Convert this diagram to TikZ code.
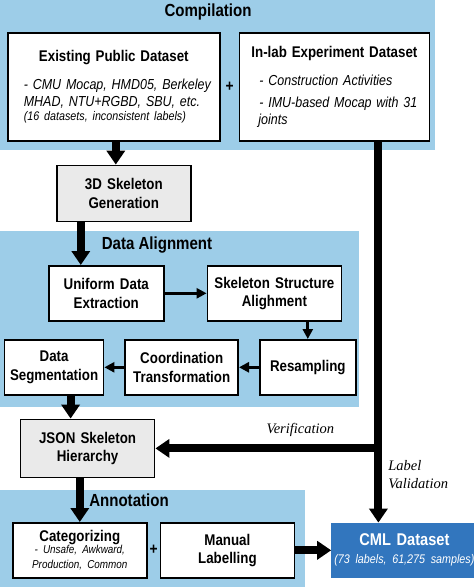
\documentclass[tikz,border=0pt]{standalone}
\usepackage{fontspec}
\setmainfont{Liberation Sans}[FakeStretch=0.86]
\newfontfamily\serifit{Liberation Serif}
\usetikzlibrary{arrows.meta,calc}
\usetikzlibrary{positioning}

\definecolor{panelblue}{RGB}{157,205,232}
\definecolor{cmlblue}{RGB}{50,118,190}
\definecolor{stagegray}{RGB}{234,234,234}

\begin{document}
\begin{tikzpicture} [x=1pt, y=1pt,
    stage/.style={rectangle, draw=black, line width=1.6pt, fill=white, inner sep=0pt, align=center, font=\fontsize{15.5}{18.5}\selectfont\bfseries},
    graystage/.style={stage, fill=stagegray},
    source/.style={stage, minimum height=108pt, align=left, font=\fontsize{14.5}{17}\selectfont\itshape},
    result/.style={rectangle, fill=cmlblue, text=white, inner sep=0pt, align=center, font=\fontsize{17}{20}\selectfont\bfseries},
    phase/.style={inner sep=0pt, font=\fontsize{17.5}{20}\selectfont\bfseries},
    plus/.style={inner sep=0pt, font=\fontsize{16}{18}\selectfont\bfseries},
    note/.style={inner sep=0pt, align=left, font=\fontsize{14.5}{18}\selectfont\serifit\itshape},
    mainflow/.style={line width=8pt, -{Triangle[length=14pt,width=18pt]}},
    subflow/.style={line width=3pt, -{Triangle[length=10pt,width=10pt]}}
    ]
    \useasboundingbox (0,0) rectangle (474,-587);

    %Panels
    \fill[panelblue] (0,0) rectangle (435,-150);
    \fill[panelblue] (0,-231) rectangle (359,-407);
    \fill[panelblue] (0,-490) rectangle (305,-587);
    \node[phase] (compilation) at (208,-12) {Compilation};
    \node[phase] (alignment)   at (157,-245) {Data Alignment};
    \node[phase] (annotation)  at (129,-500) {Annotation};

    %Nodes
    \node[source, anchor=north west, minimum width=212pt, text width=198pt] (existing) at (7,-32)
        {\null\hfill{\upshape\bfseries\fontsize{15.5}{17}\selectfont Existing Public Dataset}\hfill\null\\[11pt]
         \hspace*{9pt}- CMU Mocap, HMD05, Berkeley\\
         \hspace*{9pt}MHAD, NTU+RGBD, SBU, etc.\\[-3pt]
         \hspace*{9pt}{\fontsize{12.5}{14}\selectfont (16 datasets, inconsistent labels)}};
    \node[source, minimum width=190pt, text width=170pt] (inlab) [right=18pt of existing]
        {\null\hfill{\upshape\bfseries\fontsize{15.5}{17}\selectfont In-lab Experiment Dataset}\hfill\null\\[11pt]
         \hspace*{10pt}- Construction Activities\\[5pt]
         \hspace*{10pt}- IMU-based Mocap with 31\\
         \hspace*{9pt}joints};
    \node[plus] (plustop) at ($(existing.east)!0.5!(inlab.west)$) {+};
    \node[graystage, minimum width=134pt, minimum height=56pt, text width=130pt] (skeleton) [below=23pt of existing, xshift=10pt] {3D Skeleton\\Generation};

    \node[stage, anchor=north west, minimum width=115pt, minimum height=55pt, text width=111pt] (uniform) at (48,-265) {Uniform Data\\Extraction};
    \node[stage, minimum width=134pt, minimum height=55pt, text width=130pt] (structure) [right=42pt of uniform] {Skeleton Structure\\Alighment};
    \node[stage, anchor=north west, minimum width=96pt, minimum height=55pt, text width=92pt] (resampling) at (259,-339) {Resampling};
    \node[stage, minimum width=113pt, minimum height=55pt, text width=109pt] (coordination) [left=20pt of resampling] {Coordination\\Transformation};
    \node[stage, minimum width=99pt, minimum height=55pt, text width=95pt] (segmentation) [left=20pt of coordination] {Data\\Segmentation};

    \node[graystage, minimum width=134pt, minimum height=58pt, text width=130pt] (json) [below=23pt of segmentation, xshift=33.5pt] {JSON Skeleton\\Hierarchy};

    \node[stage, anchor=north west, minimum width=134pt, minimum height=55pt, text width=130pt] (categorizing) at (12,-522)
        {Categorizing\\[-2pt]
         {\mdseries\itshape\fontsize{11.5}{14}\selectfont - Unsafe, Awkward,\\[-4pt] Production, Common}};
    \node[stage, minimum width=134pt, minimum height=55pt, text width=130pt] (manual) [right=12pt of categorizing] {Manual\\Labelling};
    \node[plus] (plusbottom) at ($(categorizing.east)!0.5!(manual.west)$) {+};
    \node[result, minimum width=146pt, minimum height=55pt, text width=142pt] (cml) [right=36pt of manual]
        {CML Dataset\\[-2pt]
         {\mdseries\itshape\fontsize{12.5}{15}\selectfont (73 labels, 61,275 samples)}};

    %Lines
    \coordinate (labdrop) at ([xshift=44pt]inlab.south);
    \draw[mainflow] ([xshift=2pt]existing.south) -- ([xshift=2pt]existing.south |- skeleton.north);
    \draw[mainflow] ([xshift=-43pt]skeleton.south) -- ([xshift=-43pt]skeleton.south |- uniform.north);
    \draw[subflow] (uniform.east) -- (structure.west);
    \draw[subflow] (resampling.north |- structure.south) -- (resampling.north);
    \draw[subflow] (resampling.west) -- (coordination.east);
    \draw[subflow] (coordination.west) -- (segmentation.east);
    \draw[mainflow] ([xshift=16.5pt]segmentation.south) -- ([xshift=16.5pt]segmentation.south |- json.north);
    \draw[mainflow] (categorizing.north |- json.south) -- (categorizing.north);
    \draw[mainflow] (manual.east) -- (cml.west);
    \draw[mainflow] (labdrop) -- (labdrop |- cml.north) node[note, pos=0.874, anchor=west, xshift=6pt] {Label\\Validation};
    \draw[mainflow] (labdrop |- json.east) -- (json.east) node[note, pos=0.35, anchor=south, yshift=8pt] {Verification};

\end{tikzpicture}
\end{document}
